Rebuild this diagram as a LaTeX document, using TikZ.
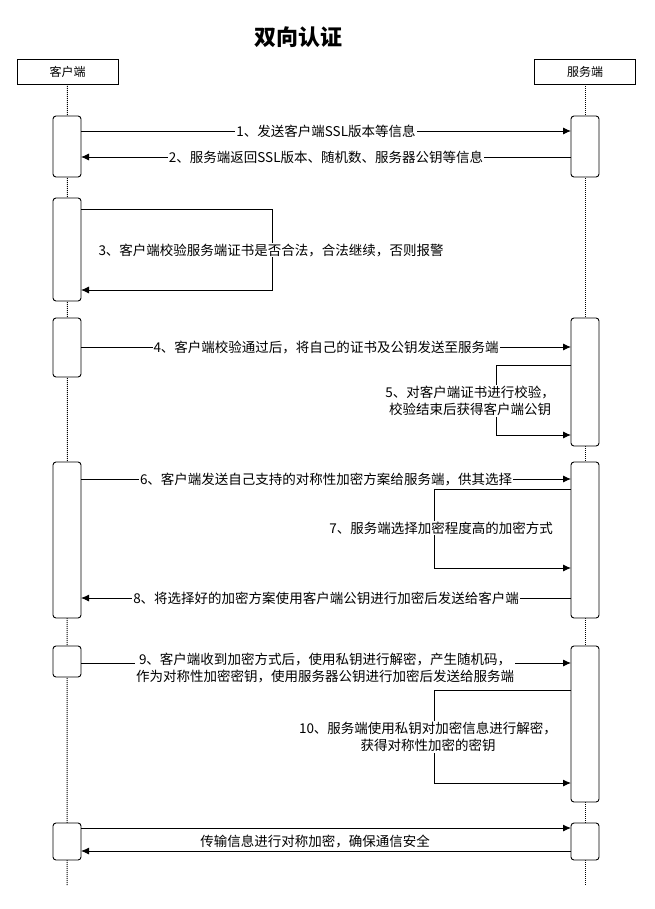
\documentclass[tikz,border=0pt]{standalone}
\usepackage{fontspec}
\setmainfont{Noto Sans CJK SC}
\usetikzlibrary{arrows.meta}
\begin{document}
\begin{tikzpicture}[x=1pt,y=-1pt,
  hdr/.style={draw,minimum width=101pt,minimum height=25pt,inner sep=0pt,font=\fontsize{12}{14}\selectfont},
  act/.style={draw,fill=white,rounded corners=3pt,line width=0.9pt},
  msg/.style={line width=0.9pt,-{Latex[length=8pt,width=7pt]}},
  lbl/.style={fill=white,inner sep=1pt,font=\fontsize{13.5}{17}\selectfont,align=center},
  life/.style={densely dotted,line width=1pt}]
\useasboundingbox (0,0) rectangle (655,909);
\node[font=\bfseries\fontsize{22}{26}\selectfont] (title) at (298,37) {双向认证};
\node[hdr] (c) at (67.5,71.5) {客户端};
\node[hdr] (s) at (585,71.5) {服务端};
\coordinate (ce) at (67,885); \coordinate (se) at (585,885);
\draw[life] (c.south) -- (ce);
\draw[life] (s.south) -- (se);
% activations
\foreach \a/\b in {116/177,198/301,318/377,462/618,646/677,823/860}{\draw[act] (53,\a) rectangle (81,\b);}
\foreach \a/\b in {116/177,318/446,462/618,646/802,823/860}{\draw[act] (571,\a) rectangle (599,\b);}
% messages
\coordinate (c1) at (81,131); \coordinate (s1) at (571,131);
\draw[msg] (c1) -- node[lbl]{1、发送客户端SSL版本等信息} (s1);
\coordinate (c2) at (81,157); \coordinate (s2) at (571,157);
\draw[msg] (s2) -- node[lbl]{2、服务端返回SSL版本、随机数、服务器公钥等信息} (c2);
\coordinate (c3a) at (81,209); \coordinate (c3b) at (81,290);
\draw[msg] (c3a) -- (272,209) -- (272,290) -- (c3b);
\node[lbl] (l3) at (271,250) {3、客户端校验服务端证书是否合法，合法继续，否则报警};
\coordinate (c4) at (81,347); \coordinate (s4) at (571,347);
\draw[msg] (c4) -- node[lbl]{4、客户端校验通过后，将自己的证书及公钥发送至服务端} (s4);
\coordinate (s5a) at (571,365); \coordinate (s5b) at (571,435);
\draw[msg] (s5a) -- (496,365) -- (496,435) -- (s5b);
\node[lbl] (l5) at (470,401) {5、对客户端证书进行校验，\\校验结束后获得客户端公钥};
\coordinate (c6) at (81,479); \coordinate (s6) at (571,479);
\draw[msg] (c6) -- node[lbl]{6、客户端发送自己支持的对称性加密方案给服务端，供其选择} (s6);
\coordinate (s7a) at (571,489); \coordinate (s7b) at (571,568);
\draw[msg] (s7a) -- (434,489) -- (434,568) -- (s7b);
\node[lbl] (l7) at (441,528) {7、服务端选择加密程度高的加密方式};
\coordinate (c8) at (81,598); \coordinate (s8) at (571,598);
\draw[msg] (s8) -- node[lbl]{8、将选择好的加密方案使用客户端公钥进行加密后发送给客户端} (c8);
\coordinate (c9) at (81,663); \coordinate (s9) at (571,663);
\draw[msg] (c9) -- (s9);
\node[lbl] (l9) at (325,668) {9、客户端收到加密方式后，使用私钥进行解密，产生随机码，\\作为对称性加密密钥，使用服务器公钥进行加密后发送给服务端};
\coordinate (s10a) at (571,690); \coordinate (s10b) at (571,783);
\draw[msg] (s10a) -- (434,690) -- (434,783) -- (s10b);
\node[lbl] (l10) at (428,737) {10、服务端使用私钥对加密信息进行解密，\\获得对称性加密的密钥};
\coordinate (c11) at (81,828); \coordinate (s11) at (571,828);
\draw[msg] (c11) -- (s11);
\coordinate (c12) at (81,851); \coordinate (s12) at (571,851);
\draw[msg] (s12) -- (c12);
\node[lbl,fill=none] (l11) at (315,841) {传输信息进行对称加密，确保通信安全};
\end{tikzpicture}
\end{document}
